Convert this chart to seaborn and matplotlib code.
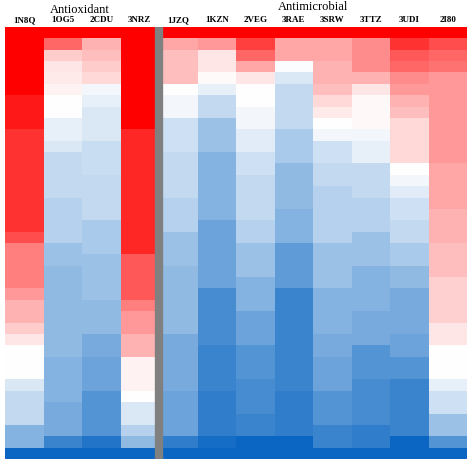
import numpy as np
import matplotlib.pyplot as plt
import seaborn as sns
from matplotlib.colors import LinearSegmentedColormap

columns = ["1N8Q", "1OG5", "2CDU", "3NRZ", "1JZQ", "1KZN", "2VEG", "3RAE", "3SRW", "3TTZ", "3UDI", "2I80"]

# run-length values: (value, number of rows), 38 rows per column
runs = {
    "1N8Q": [(1, 6), (0.9, 3), (0.8, 9), (0.7, 1), (0.5, 4), (0.4, 1), (0.3, 2), (0.2, 1), (0.1, 1), (0.0, 3), (-0.15, 1), (-0.25, 3), (-0.5, 2), (-1, 1)],
    "1OG5": [(1, 1), (0.6, 1), (0.2, 1), (0.1, 1), (0.08, 1), (0.05, 1), (0, 2), (-0.1, 2), (-0.15, 1), (-0.25, 4), (-0.3, 4), (-0.4, 2), (-0.45, 8), (-0.5, 4), (-0.55, 3), (-0.8, 1), (-1, 1)],
    "2CDU": [(1, 1), (0.3, 1), (0.25, 1), (0.2, 1), (0.15, 1), (-0.05, 1), (-0.1, 1), (-0.15, 3), (-0.22, 3), (-0.25, 4), (-0.35, 3), (-0.4, 4), (-0.45, 3), (-0.55, 2), (-0.6, 3), (-0.7, 4), (-0.9, 1), (-1, 1)],
    "3NRZ": [(1, 9), (0.85, 11), (0.65, 4), (0.5, 1), (0.4, 2), (0.3, 2), (0.05, 3), (0.0, 1), (-0.15, 2), (-0.3, 1), (-0.45, 1), (-1, 1)],
    "1JZQ": [(1, 1), (0.35, 1), (0.25, 3), (0, 1), (-0.05, 2), (-0.2, 3), (-0.25, 4), (-0.3, 3), (-0.4, 3), (-0.45, 6), (-0.55, 5), (-0.6, 4), (-0.85, 1), (-1, 1)],
    "1KZN": [(1, 1), (0.4, 1), (0.1, 2), (0.02, 1), (-0.1, 1), (-0.25, 2), (-0.4, 3), (-0.5, 6), (-0.6, 6), (-0.75, 5), (-0.8, 4), (-0.85, 4), (-0.95, 1), (-1, 1)],
    "2VEG": [(1, 1), (0.75, 1), (0.6, 1), (0.35, 1), (0.1, 1), (0, 2), (-0.05, 2), (-0.12, 2), (-0.2, 2), (-0.25, 4), (-0.3, 2), (-0.4, 3), (-0.5, 3), (-0.6, 3), (-0.7, 3), (-0.75, 3), (-0.8, 2), (-1, 2)],
    "3RAE": [(1, 1), (0.35, 2), (-0.02, 1), (-0.15, 1), (-0.25, 4), (-0.35, 3), (-0.45, 4), (-0.5, 3), (-0.65, 4), (-0.8, 9), (-0.85, 4), (-1, 2)],
    "3SRW": [(1, 1), (0.35, 2), (0.3, 2), (0.25, 1), (0.15, 1), (0.08, 1), (0.0, 1), (-0.05, 1), (-0.2, 2), (-0.25, 2), (-0.3, 5), (-0.4, 4), (-0.5, 4), (-0.55, 2), (-0.6, 3), (-0.7, 3), (-0.8, 2), (-1, 1)],
    "3TTZ": [(1, 1), (0.45, 3), (0.3, 1), (0.1, 1), (0.03, 3), (-0.05, 1), (-0.1, 2), (-0.25, 3), (-0.3, 3), (-0.4, 3), (-0.5, 4), (-0.55, 3), (-0.7, 3), (-0.75, 4), (-0.85, 2), (-1, 1)],
    "3UDI": [(1, 1), (0.8, 1), (0.65, 1), (0.6, 1), (0.45, 1), (0.4, 1), (0.3, 1), (0.25, 1), (0.15, 4), (0.0, 1), (-0.05, 1), (-0.12, 1), (-0.2, 2), (-0.25, 2), (-0.35, 2), (-0.45, 2), (-0.55, 4), (-0.6, 2), (-0.7, 2), (-0.8, 5), (-1, 2)],
    "2I80": [(1, 1), (0.7, 1), (0.6, 1), (0.55, 1), (0.4, 8), (0.35, 4), (0.3, 3), (0.25, 3), (0.18, 4), (0.1, 2), (0.0, 3), (-0.1, 1), (-0.2, 2), (-0.4, 2), (-0.7, 1), (-1, 1)],
}

data = np.array([[v for v, n in runs[c] for _ in range(n)] for c in columns]).T

cmap = LinearSegmentedColormap.from_list("rwb", ["#0a66c2", "#ffffff", "#ff0000"])

fig = plt.figure(figsize=(4.74, 4.62), dpi=100)
ax = fig.add_axes([5 / 474, 3 / 462, 462 / 474, 432 / 462])
sns.heatmap(data, cmap=cmap, vmin=-1, vmax=1, cbar=False, ax=ax,
            xticklabels=columns, yticklabels=False)
ax.xaxis.tick_top()
ax.tick_params(axis="x", length=0, pad=2)
for t in ax.get_xticklabels():
    t.set_fontfamily("Liberation Serif")
    t.set_fontweight("bold")
    t.set_fontsize(6.5)
    t.set_rotation(0)
ax.axvline(4, color="#808080", lw=6)
fig.text(80 / 474, 1 - 10 / 462, "Antioxidant", ha="center", va="center",
         family="Liberation Serif", fontsize=9)
fig.text(313 / 474, 1 - 7 / 462, "Antimicrobial", ha="center", va="center",
         family="Liberation Serif", fontsize=9)

plt.savefig("out.png", dpi=100)
